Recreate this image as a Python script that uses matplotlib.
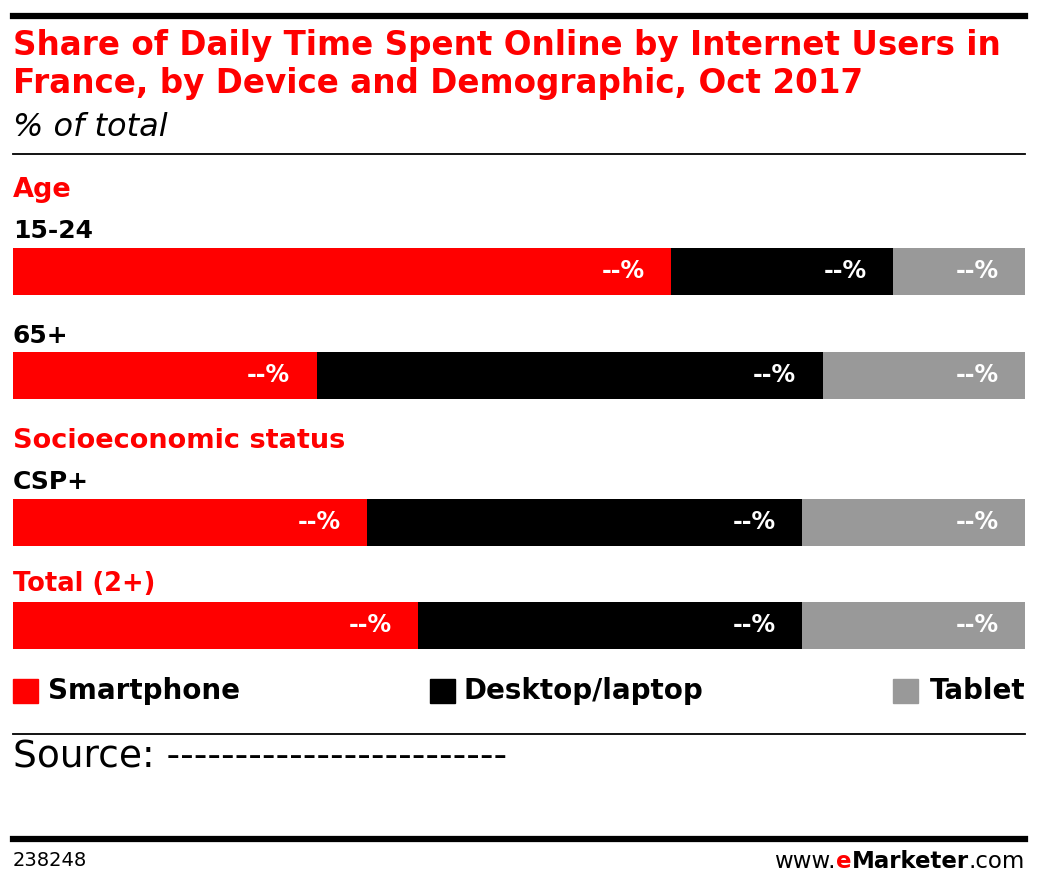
import matplotlib
matplotlib.use('Agg')
import matplotlib.pyplot as plt

# chart data
rows      = ['15-24', '65+', 'CSP+', 'Total (2+)']
smartphone = [65, 30, 35, 40]
desktop    = [22, 50, 43, 38]
tablet     = [13, 20, 22, 22]
labels     = ['--%', '--%', '--%', '--%']
series     = ['Smartphone', 'Desktop/laptop', 'Tablet']
colors     = ['#ff0000', '#000000', '#999999']

W, H = 1038, 889
fig = plt.figure(figsize=(W / 100, H / 100), dpi=100)

def fy(py):
    return 1 - py / H

def fx(px):
    return px / W

# horizontal rules
def rule(py, lw, color='black'):
    fig.add_artist(plt.Line2D([fx(13), fx(1025)], [fy(py), fy(py)], color=color, lw=lw))

rule(16, 4.5)
rule(154, 1.3)
rule(734, 1.3)
rule(839, 4.5)

# title
red = '#ff0000'
fig.text(fx(13), fy(46), 'Share of Daily Time Spent Online by Internet Users in',
         color=red, fontsize=23.5, fontweight='bold', va='center', ha='left')
fig.text(fx(13), fy(84), 'France, by Device and Demographic, Oct 2017',
         color=red, fontsize=23.5, fontweight='bold', va='center', ha='left')
fig.text(fx(13), fy(127), '% of total', fontsize=23, style='italic', va='center', ha='left')

# group headers and row labels
fig.text(fx(13), fy(190), 'Age', color=red, fontsize=19.5, fontweight='bold', va='center')
fig.text(fx(13), fy(231), rows[0], fontsize=18, fontweight='bold', va='center')
fig.text(fx(13), fy(336), rows[1], fontsize=18, fontweight='bold', va='center')
fig.text(fx(13), fy(441), 'Socioeconomic status', color=red, fontsize=19.5, fontweight='bold', va='center')
fig.text(fx(13), fy(482), rows[2], fontsize=18, fontweight='bold', va='center')
fig.text(fx(13), fy(584), rows[3], color=red, fontsize=18.5, fontweight='bold', va='center')

# bars: axes covers x 13..1025 and full height, y in pixel rows
ax = fig.add_axes([fx(13), 0, fx(1012), 1])
ax.set_xlim(0, 100)
ax.set_ylim(H, 0)
ax.axis('off')

ypos = [271.5, 375, 522, 625]
bar_h = 47
left = [0] * len(rows)
for vals, c in zip([smartphone, desktop, tablet], colors):
    ax.barh(ypos, vals, left=left, height=bar_h, color=c, edgecolor='none')
    for y, l, v, t in zip(ypos, left, vals, labels):
        ax.text(l + v - 2.6, y, t, color='white', fontsize=17, fontweight='bold',
                ha='right', va='center')
    left = [a + b for a, b in zip(left, vals)]

# legend
leg_x = [(13, 48), (430, 464), (893, 930)]
for (sx, tx), name, c in zip(leg_x, series, colors):
    fig.add_artist(plt.Rectangle((fx(sx), fy(703)), fx(25), 24 / H, color=c))
    fig.text(fx(tx), fy(691), name, fontsize=20, fontweight='bold', va='center', ha='left')

# source and footer
fig.text(fx(13), fy(757), 'Source: ' + '-' * 25, fontsize=27, va='center', ha='left')
fig.text(fx(13), fy(861), '238248', fontsize=14, va='center', ha='left')
t1 = fig.text(fx(1025), fy(861), '.com', fontsize=16.5, va='center', ha='right')
fig.canvas.draw()
bb = t1.get_window_extent()
t2 = fig.text(bb.x0 / W, fy(861), 'Marketer', fontsize=16.5, fontweight='bold', va='center', ha='right')
bb = t2.get_window_extent()
t3 = fig.text(bb.x0 / W, fy(861), 'e', fontsize=16.5, fontweight='bold', color=red, va='center', ha='right')
bb = t3.get_window_extent()
fig.text(bb.x0 / W, fy(861), 'www.', fontsize=16.5, va='center', ha='right')

fig.savefig('out.png', dpi=100)
